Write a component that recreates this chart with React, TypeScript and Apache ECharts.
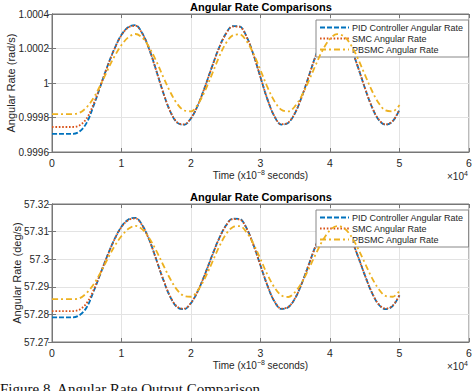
import React, { useEffect, useRef } from "react";
import * as echarts from "echarts";

const timeX = [
  0, 0.1, 0.2, 0.3, 0.4, 0.5, 0.6, 0.7, 0.8, 0.9, 1.0, 1.1, 1.2, 1.3, 1.4, 1.5, 1.6, 1.7, 1.8, 1.9,
  2.0, 2.1, 2.2, 2.3, 2.4, 2.5, 2.6, 2.7, 2.8, 2.9, 3.0, 3.1, 3.2, 3.3, 3.4, 3.5, 3.6, 3.7, 3.8, 3.9,
  4.0, 4.1, 4.2, 4.3, 4.4, 4.5, 4.6, 4.7, 4.8, 4.9, 5.0,
];

const seriesNames = ["PID Controller Angular Rate", "SMC Angular Rate", "PBSMC Angular Rate"];

// rad/s
const pidRad = [
  0.999705, 0.999705, 0.999705, 0.999705, 0.99972, 0.99977, 0.99987, 0.999985, 1.0001, 1.0002,
  1.00028, 1.000325, 1.000335, 1.000288, 1.000195, 1.000072, 0.999944, 0.999836, 0.99977, 0.999758,
  0.999795, 0.999872, 0.999977, 1.000092, 1.000201, 1.000285, 1.00033, 1.000328, 1.000269, 1.000163,
  1.000033, 0.999905, 0.999807, 0.999759, 0.999769, 0.999828, 0.999927, 1.000046, 1.000165, 1.000264,
  1.000324, 1.000334, 1.000293, 1.000208, 1.000095, 0.999973, 0.999864, 0.999787, 0.999758, 0.999777,
  0.999845,
];
const smcRad = [
  0.999745, 0.999745, 0.999745, 0.999745, 0.999755, 0.999795, 0.99988, 0.999988, 1.000098, 1.000198,
  1.000278, 1.000322, 1.000332, 1.000286, 1.000194, 1.000072, 0.999945, 0.999837, 0.999772, 0.99976,
  0.999797, 0.999873, 0.999977, 1.000091, 1.000199, 1.000283, 1.000327, 1.000325, 1.000267, 1.000162,
  1.000033, 0.999906, 0.999808, 0.999761, 0.999771, 0.999829, 0.999927, 1.000045, 1.000163, 1.000262,
  1.000321, 1.000331, 1.000291, 1.000207, 1.000095, 0.999974, 0.999865, 0.999789, 0.99976, 0.999779,
  0.999846,
];
const pbsmcRad = [
  0.99982, 0.99982, 0.99982, 0.99982, 0.999828, 0.99986, 0.999915, 0.99999, 1.000075, 1.000155,
  1.00022, 1.000265, 1.000284, 1.000262, 1.000206, 1.000127, 1.000036, 0.999949, 0.99988, 0.999841,
  0.999836, 0.999877, 0.999953, 1.000049, 1.000147, 1.000229, 1.000276, 1.000282, 1.000242, 1.000169,
  1.000074, 0.999976, 0.999895, 0.999845, 0.999835, 0.999867, 0.999931, 1.000017, 1.00011, 1.000195,
  1.000256, 1.000283, 1.000271, 1.000221, 1.000143, 1.00005, 0.999958, 0.999884, 0.999841, 0.999836,
  0.999872,
];

// deg/s
const pidDeg = [
  57.2789, 57.2789, 57.2789, 57.2789, 57.2798, 57.2826, 57.2884, 57.2949, 57.3015, 57.3073,
  57.3118, 57.3144, 57.315, 57.3123, 57.307, 57.2999, 57.2926, 57.2864, 57.2826, 57.2819,
  57.2841, 57.2885, 57.2945, 57.3011, 57.3073, 57.3121, 57.3147, 57.3146, 57.3112, 57.3051,
  57.2977, 57.2904, 57.2847, 57.282, 57.2826, 57.2859, 57.2916, 57.2984, 57.3053, 57.3109,
  57.3144, 57.3149, 57.3126, 57.3077, 57.3012, 57.2943, 57.288, 57.2836, 57.2819, 57.283,
  57.2869,
];
const smcDeg = [
  57.2812, 57.2812, 57.2812, 57.2812, 57.2818, 57.2841, 57.2889, 57.2951, 57.3014, 57.3072,
  57.3117, 57.3142, 57.3148, 57.3122, 57.3069, 57.2999, 57.2927, 57.2865, 57.2828, 57.2821,
  57.2842, 57.2886, 57.2945, 57.301, 57.3072, 57.312, 57.3145, 57.3144, 57.3111, 57.305,
  57.2977, 57.2905, 57.2848, 57.2821, 57.2827, 57.286, 57.2916, 57.2984, 57.3052, 57.3108,
  57.3142, 57.3147, 57.3125, 57.3076, 57.3012, 57.2943, 57.2881, 57.2837, 57.2821, 57.2831,
  57.287,
];
const pbsmcDeg = [
  57.2855, 57.2855, 57.2855, 57.2855, 57.2859, 57.2878, 57.2909, 57.2952, 57.3001, 57.3047,
  57.3084, 57.311, 57.3121, 57.3108, 57.3076, 57.3031, 57.2979, 57.2929, 57.2889, 57.2867,
  57.2864, 57.2888, 57.2931, 57.2986, 57.3042, 57.3089, 57.3116, 57.312, 57.3097, 57.3055,
  57.3, 57.2944, 57.2898, 57.2869, 57.2863, 57.2882, 57.2918, 57.2968, 57.3021, 57.307,
  57.3105, 57.312, 57.3113, 57.3085, 57.304, 57.2987, 57.2934, 57.2892, 57.2867, 57.2864,
  57.2885,
];

const xTickLabels = ["0", "1", "2", "3", "4", "5", "6"];
const titleText = "Angular Rate Comparisons";
const yNameTop = "Angular Rate (rad/s)";
const yNameBottom = "Angular Rate (deg/s)";
const captionText = "Figure 8. Angular Rate Output Comparison";

const COLORS = ["#0072BD", "#D95319", "#EDB120"];
const DASHES: any[] = [[5, 2], [1.6, 1.8], [6, 3, 2, 3]];

const FONT = "Liberation Sans, Arial, Helvetica, sans-serif";
const LABEL_COLOR = "#262626";
const AXIS_COLOR = "#777";
const GRID_COLOR = "#e3e3e3";

const GRID_LEFT = 52;
const GRID_W = 417;
const GRID_H = 138;
const GRID_TOPS = [14, 204];

export default function App() {
  const ref = useRef<HTMLDivElement>(null);
  useEffect(() => {
    if (!ref.current) return;
    const chart = echarts.init(ref.current, undefined, { renderer: "svg" });

    const grids = GRID_TOPS.map((t) => ({
      left: GRID_LEFT,
      top: t,
      width: GRID_W,
      height: GRID_H,
      containLabel: false,
      outerBoundsMode: "none",
      show: true,
      borderColor: AXIS_COLOR,
      borderWidth: 1,
      backgroundColor: "#fff",
    }));

    const xAxes: any[] = [];
    const yAxes: any[] = [];
    const yCfg = [
      { min: 0.9996, max: 1.0004, interval: 0.0002, dec: 4, name: yNameTop, gap: 36 },
      { min: 57.27, max: 57.32, interval: 0.01, dec: 2, name: yNameBottom, gap: 30 },
    ];
    [0, 1].forEach((g) => {
      xAxes.push({
        type: "value",
        gridIndex: g,
        position: "bottom",
        min: 0,
        max: 6,
        interval: 1,
        axisLine: { show: true, lineStyle: { color: AXIS_COLOR } },
        axisTick: { show: true, inside: true, length: 4, lineStyle: { color: AXIS_COLOR } },
        axisLabel: {
          fontSize: 10.5,
          color: LABEL_COLOR,
          fontFamily: FONT,
          margin: 5,
          formatter: (v: number) => xTickLabels[Math.round(v)] ?? "",
        },
        splitLine: { show: true, lineStyle: { color: GRID_COLOR } },
        name: "{n|Time (x10}{s|−8}{n| seconds)}",
        nameLocation: "middle",
        nameGap: 17,
        nameMoveOverlap: false,
        nameTextStyle: {
          rich: {
            n: { fontSize: 10, color: LABEL_COLOR, fontFamily: FONT },
            s: { fontSize: 7, color: LABEL_COLOR, fontFamily: FONT, verticalAlign: "top", padding: [0, 0, 6, 0] },
          },
        },
      });
      xAxes.push({
        type: "value",
        gridIndex: g,
        position: "top",
        min: 0,
        max: 6,
        interval: 1,
        axisLine: { show: true, lineStyle: { color: AXIS_COLOR } },
        axisTick: { show: true, inside: true, length: 4, lineStyle: { color: AXIS_COLOR } },
        axisLabel: { show: false },
        splitLine: { show: false },
      });
      const c = yCfg[g];
      yAxes.push({
        type: "value",
        gridIndex: g,
        position: "left",
        min: c.min,
        max: c.max,
        interval: c.interval,
        axisLine: { show: true, lineStyle: { color: AXIS_COLOR } },
        axisTick: { show: true, inside: true, length: 4, lineStyle: { color: AXIS_COLOR } },
        axisLabel: {
          fontSize: 10,
          color: LABEL_COLOR,
          fontFamily: FONT,
          margin: 3,
          formatter: (v: number) => String(Number(v.toFixed(c.dec))),
        },
        splitLine: { show: true, lineStyle: { color: GRID_COLOR } },
        name: c.name,
        nameLocation: "middle",
        nameGap: c.gap,
        nameMoveOverlap: false,
        nameTextStyle: { fontSize: 11, color: LABEL_COLOR, fontFamily: FONT },
      });
      yAxes.push({
        type: "value",
        gridIndex: g,
        position: "right",
        min: c.min,
        max: c.max,
        interval: c.interval,
        axisLine: { show: true, lineStyle: { color: AXIS_COLOR } },
        axisTick: { show: true, inside: true, length: 4, lineStyle: { color: AXIS_COLOR } },
        axisLabel: { show: false },
        splitLine: { show: false },
      });
    });

    const dataSets = [
      [pidRad, smcRad, pbsmcRad],
      [pidDeg, smcDeg, pbsmcDeg],
    ];
    const series: any[] = [];
    dataSets.forEach((set, g) => {
      set.forEach((vals, i) => {
        series.push({
          type: "line",
          name: seriesNames[i],
          xAxisIndex: g * 2,
          yAxisIndex: g * 2,
          data: timeX.map((x, k) => [x, vals[k]]),
          smooth: 0.35,
          showSymbol: false,
          symbol: "none",
          color: COLORS[i],
          lineStyle: { color: COLORS[i], width: 1.8, type: DASHES[i] },
          z: 2 + i,
        });
      });
    });

    const legends = GRID_TOPS.map((t) => ({
      left: 316,
      top: t + 6,
      orient: "vertical",
      data: seriesNames,
      itemWidth: 29,
      itemHeight: 8,
      itemGap: 2,
      padding: [3, 5, 3, 3],
      backgroundColor: "#fff",
      borderColor: "#888",
      borderWidth: 1,
      borderRadius: 0,
      selectedMode: false,
      itemStyle: { opacity: 0 },
      textStyle: { fontSize: 9, color: LABEL_COLOR, fontFamily: FONT, lineHeight: 9, padding: [0, 0, 0, -2] },
    }));

    const graphic: any[] = [];
    GRID_TOPS.forEach((t) => {
      graphic.push({
        type: "text",
        x: 261,
        y: t - 7,
        style: {
          text: titleText,
          font: `bold 11px ${FONT}`,
          fill: "#000",
          textAlign: "center",
          textVerticalAlign: "middle",
        },
      });
      graphic.push({
        type: "text",
        x: 447,
        y: t + GRID_H + 18,
        style: {
          text: "{a|×10}{b|4}",
          rich: {
            a: { fontSize: 10, fill: LABEL_COLOR, fontFamily: FONT },
            b: { fontSize: 7, fill: LABEL_COLOR, fontFamily: FONT, verticalAlign: "top", padding: [0, 0, 6, 0] },
          },
        },
      });
    });
    graphic.push({
      type: "text",
      x: 0,
      y: 381,
      style: {
        text: captionText,
        font: "15px Liberation Serif, Times New Roman, serif",
        fill: "#111",
        textVerticalAlign: "top",
      },
    });

    chart.setOption({
      animation: false,
      backgroundColor: "#fff",
      grid: grids,
      xAxis: xAxes,
      yAxis: yAxes,
      legend: legends,
      series,
      graphic,
    });
    return () => chart.dispose();
  }, []);
  return (
    <div
      ref={ref}
      style={{ position: "fixed", left: 0, top: 0, width: 474, height: 391, background: "#fff" }}
    />
  );
}
